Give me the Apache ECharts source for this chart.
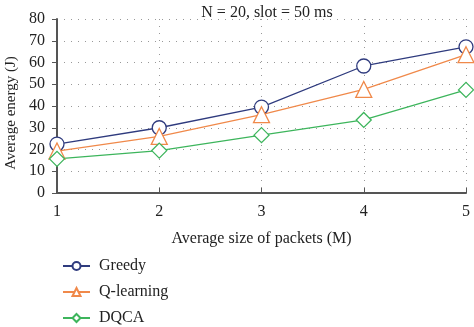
<!DOCTYPE html>
<html>
<head>
<meta charset="utf-8">
<script src="https://cdn.jsdelivr.net/npm/echarts@6/dist/echarts.min.js"></script>
<style>
  html, body { margin: 0; padding: 0; background: #fff; }
  #chart { width: 474px; height: 327px; }
</style>
</head>
<body>
<div id="chart"></div>
<script>
// Average energy per packet size for each scheduling scheme
const packetSizes = [1, 2, 3, 4, 5];
const greedy = [22.5, 30, 39.5, 58.4, 67.2];
const qLearning = [19.3, 26, 36, 47.6, 63.6];
const dqca = [15.7, 19.5, 26.6, 33.6, 47.4];
const yTicks = [0, 10, 20, 30, 40, 50, 60, 70, 80];

const FONT = 'Liberation Serif';
const chart = echarts.init(document.getElementById('chart'));

function line(name, data, color, symbol, size) {
  return {
    name: name,
    type: 'line',
    data: packetSizes.map((x, i) => [x, data[i]]),
    symbol: symbol,
    symbolSize: size,
    showAllSymbol: true,
    lineStyle: { color: color, width: 1.3 },
    itemStyle: { color: '#fff', borderColor: color, borderWidth: 1.3 },
    emphasis: { disabled: true },
    z: 3
  };
}

chart.setOption({
  animation: false,
  textStyle: { fontFamily: FONT },
  title: {
    text: 'N = 20, slot = 50 ms',
    left: 262, top: 0, textAlign: 'center',
    textStyle: { fontFamily: FONT, fontSize: 16, fontWeight: 'normal', color: '#222' }
  },
  grid: { left: 57, right: 8, top: 19, bottom: 134, containLabel: false, outerBoundsMode: 'none' },
  legend: {
    orient: 'vertical',
    left: 57, top: 253, height: 74,
    itemGap: 10,
    itemWidth: 27, itemHeight: 10,
    textStyle: { fontFamily: FONT, fontSize: 16, color: '#222', padding: [0, 0, 0, 4] },
    data: ['Greedy', 'Q-learning', 'DQCA']
  },
  xAxis: {
    type: 'value',
    min: 1, max: 5, interval: 1,
    name: 'Average size of packets (M)',
    nameLocation: 'middle', nameGap: 38,
    nameTextStyle: { fontFamily: FONT, fontSize: 16, color: '#222' },
    axisLine: { lineStyle: { color: '#555', width: 2 } },
    axisTick: { show: true, length: 5, inside: true, lineStyle: { color: '#555' } },
    axisLabel: { fontFamily: FONT, fontSize: 16, color: '#222', margin: 11 },
    splitLine: { show: true, lineStyle: { color: '#999', type: [1, 6], width: 1 } }
  },
  yAxis: {
    type: 'value',
    min: 0, max: 80, interval: 10,
    name: 'Average energy (J)',
    nameLocation: 'middle', nameGap: 37,
    nameTextStyle: { fontFamily: FONT, fontSize: 15, color: '#222', padding: [0, 14, 0, 0] },
    axisLine: { show: true, lineStyle: { color: '#555', width: 2 } },
    axisTick: { show: true, length: 5, lineStyle: { color: '#555' } },
    axisLabel: {
      fontFamily: FONT, fontSize: 16, color: '#222', margin: 12,
      formatter: v => (yTicks.includes(v) ? String(v) : '')
    },
    splitLine: { show: true, lineStyle: { color: '#999', type: [1, 6], width: 1 } }
  },
  series: [
    line('Greedy', greedy, '#2f3b7e', 'circle', 14),
    line('Q-learning', qLearning, '#f0894a', 'triangle', 16),
    line('DQCA', dqca, '#3db55c', 'diamond', 15)
  ]
});
</script>
</body>
</html>
